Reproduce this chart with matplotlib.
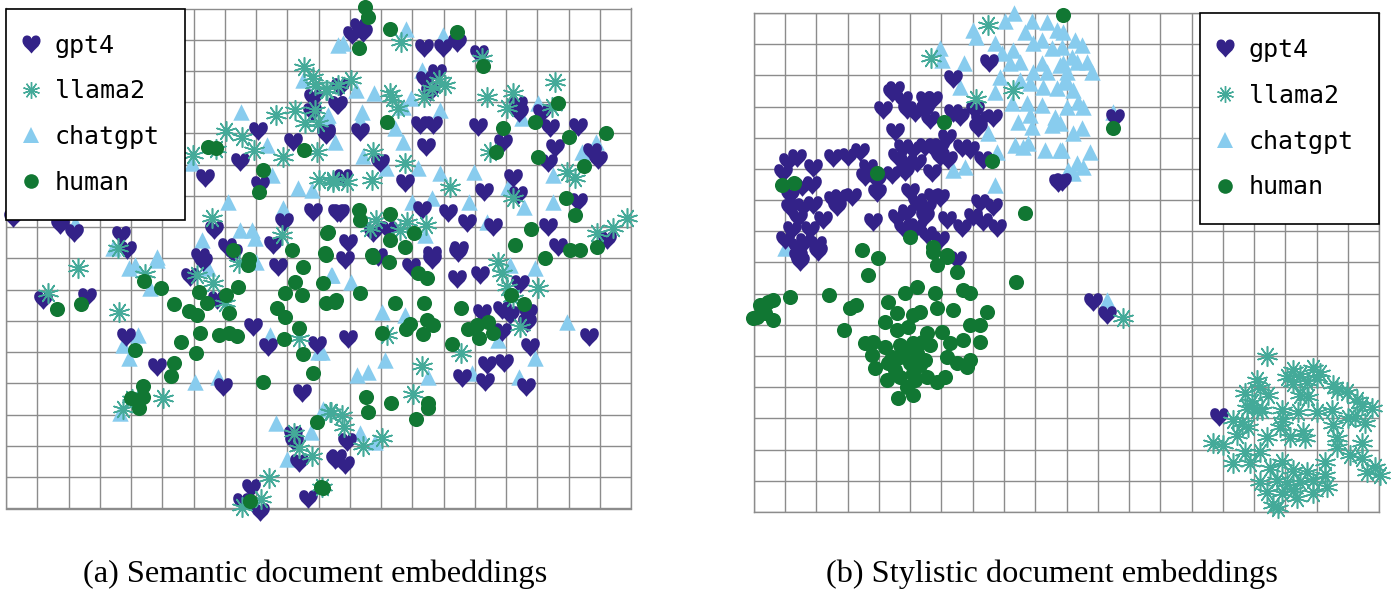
import numpy as np
import matplotlib.pyplot as plt
from matplotlib.path import Path
from matplotlib.lines import Line2D

# ---- panel (a): semantic embeddings (2-d projection coordinates) ----
gpt4_a = [(13,218),(60,225),(74,233),(121,235),(127,250),(313,98),(337,105),(312,112),(258,131),(293,142),
          (326,133),(240,162),(205,178),(260,185),(313,212),(337,213),(284,222),(214,230),(273,245),(227,247),
          (200,257),(359,27),(352,35),(363,33),(424,48),(443,48),(457,43),(479,54),(437,73),(425,80),(430,92),
          (518,105),(519,113),(542,113),(338,105),(420,125),(433,125),(478,127),(326,135),(360,132),(426,147),
          (380,163),(503,143),(550,128),(578,127),(555,148),(548,163),(592,152),(598,160),(343,178),(405,183),
          (513,178),(484,192),(518,195),(422,210),(448,213),(467,223),(493,227),(578,202),(607,240),(548,227),
          (558,247),(340,213),(373,233),(388,230),(348,243),(432,255),(459,250),(340,87),
          (43,300),(87,297),(203,262),(190,277),(217,300),(233,253),(278,267),(253,327),(317,345),(268,347),
          (126,337),(157,367),(223,387),(302,393),(293,435),(294,442),(299,463),(335,460),(251,488),(260,512),
          (242,502),(308,499),(345,260),(378,257),(432,260),(411,267),(458,253),(457,279),(480,275),(520,284),
          (482,313),(502,310),(510,315),(528,313),(527,323),(502,332),(348,339),(530,347),(487,365),(504,363),
          (462,378),(485,382),(526,387),(589,337),(347,442),(337,458),(345,465)]
llama2_a = [(118,248),(304,67),(313,77),(315,85),(327,90),(315,110),(305,123),(318,123),(276,115),(295,110),
            (226,131),(242,137),(254,150),(317,152),(283,157),(216,149),(193,155),(319,180),(333,180),(212,218),
            (282,235),(401,42),(482,58),(439,80),(445,85),(432,88),(424,97),(555,82),(487,97),(513,93),(507,108),
            (552,107),(326,90),(338,85),(351,80),(390,93),(392,98),(398,108),(373,152),(405,163),(490,152),
            (567,172),(575,178),(347,182),(333,182),(372,180),(450,187),(513,198),(627,218),(613,228),(597,233),
            (376,220),(370,228),(400,230),(407,222),(426,225),(78,268),(48,293),(119,312),(145,274),(197,275),
            (213,283),(225,303),(239,263),(299,338),(132,399),(123,409),(163,398),(331,412),(294,433),(299,448),
            (312,456),(269,478),(261,499),(242,507),(322,487),(498,262),(502,273),(507,287),(538,288),(513,298),
            (520,327),(387,335),(422,366),(461,353),(413,394),(330,412),(342,415),(344,427),(363,446),(382,438)]
chatgpt_a = [(113,248),(75,223),(157,257),(338,45),(303,80),(328,115),(241,112),(267,145),(192,163),(272,175),
             (298,188),(312,190),(228,202),(283,208),(240,230),(252,230),(255,238),(202,240),(343,43),(406,29),
             (443,35),(422,70),(538,103),(522,118),(356,90),(374,93),(411,98),(403,107),(440,110),(327,117),
             (362,112),(360,120),(335,142),(395,128),(403,142),(363,156),(386,168),(582,152),(596,142),(553,175),
             (418,168),(440,173),(474,172),(508,187),(469,202),(524,207),(412,202),(432,198),(487,222),(553,202),
             (425,235),(129,268),(135,265),(157,260),(150,288),(208,268),(256,262),(331,275),(270,335),(318,352),
             (138,335),(123,345),(129,358),(195,382),(218,377),(120,413),(323,409),(276,423),(311,432),(287,459),
             (510,265),(535,268),(332,275),(351,282),(382,312),(405,315),(498,340),(322,352),(385,360),(428,377),
             (535,358),(472,373),(519,377),(567,322),(357,375),(368,372),(360,433),(375,442)]
human_a = [(304,150),(208,147),(216,148),(263,170),(259,192),(292,250),(328,232),(325,253),(233,250),(249,259),
           (365,7),(368,17),(359,48),(390,29),(457,32),(483,66),(387,122),(503,128),(496,152),(538,157),
           (569,137),(606,133),(584,166),(566,198),(575,215),(531,229),(515,245),(570,250),(580,250),(597,247),
           (535,122),(558,103),(359,210),(360,220),(390,214),(390,240),(414,233),(405,247),(327,233),(372,255),
           (545,258),(57,309),(81,304),(144,281),(161,288),(199,292),(207,303),(226,295),(238,287),(229,313),
           (174,304),(189,311),(197,315),(248,265),(303,267),(326,255),(323,283),(295,282),(285,293),(302,295),
           (326,303),(335,302),(277,308),(285,317),(299,328),(284,339),(303,354),(313,373),(219,335),(229,333),
           (237,336),(200,333),(181,342),(196,353),(135,350),(174,363),(171,376),(263,382),(143,386),(143,397),
           (131,398),(139,408),(317,422),(250,501),(321,487),(373,257),(389,262),(418,273),(427,278),(360,293),
           (336,300),(511,295),(524,304),(395,303),(424,303),(461,308),(410,324),(406,329),(427,320),(433,325),
           (423,334),(382,333),(468,329),(477,325),(488,322),(493,333),(479,338),(452,344),(366,397),(368,412),
           (391,403),(428,403),(428,408),(416,419),(323,488)]

# ---- panel (b): stylistic embeddings ----
gpt4_b = [(989,63),(953,79),(1058,183),(895,90),(892,93),(903,100),(883,110),(907,110),(915,113),(925,100),
          (933,100),(925,110),(930,120),(953,113),(960,117),(975,110),(980,120),(993,118),(978,128),(895,132),
          (947,138),(940,147),(903,148),(913,150),(925,147),(933,148),(962,148),(970,150),(897,157),(907,163),
          (917,163),(940,157),(948,160),(983,160),(905,172),(932,173),(892,175),(868,168),(865,177),(877,180),
          (833,158),(848,157),(860,152),(813,168),(788,162),(797,158),(783,173),(802,187),(812,185),(790,208),
          (803,207),(813,205),(798,218),(823,220),(833,200),(840,198),(852,197),(837,207),(877,193),(873,222),
          (910,192),(917,202),(933,197),(940,198),(927,207),(907,213),(897,218),(925,217),(947,220),(962,228),
          (980,203),(993,207),(973,217),(983,222),(997,228),(903,228),(917,227),(927,235),(940,240),(792,230),
          (810,230),(797,247),(817,245),(805,242),(798,257),(818,252),(957,260),(1115,118),(1062,182),(1093,302),
          (1107,315),(1219,417),(790,195),(785,240),(800,262)]
llama2_b = [(988,25),(931,58),(1013,90),(976,99),(1123,318),(1267,356),(1293,370),(1287,377),(1300,375),
            (1313,368),(1320,373),(1317,378),(1293,383),(1307,382),(1257,380),(1260,387),(1245,393),(1268,395),
            (1300,395),(1308,397),(1333,385),(1337,390),(1347,392),(1357,400),(1362,405),(1372,408),(1252,402),
            (1257,410),(1247,408),(1262,410),(1282,410),(1298,412),(1317,412),(1332,410),(1348,418),(1355,417),
            (1365,423),(1233,420),(1242,423),(1248,427),(1283,420),(1280,427),(1290,437),(1303,432),(1305,438),
            (1333,425),(1237,435),(1267,437),(1213,443),(1223,445),(1337,438),(1337,447),(1350,455),(1362,443),
            (1362,458),(1375,467),(1380,475),(1367,472),(1245,452),(1260,452),(1233,463),(1250,463),(1270,468),
            (1282,462),(1293,470),(1307,472),(1325,462),(1260,482),(1277,480),(1287,483),(1300,482),(1313,480),
            (1325,475),(1327,487),(1267,492),(1282,493),(1297,498),(1313,493),(1273,505),(1278,508),(1293,490)]
chatgpt_b = [(1014,13),(1005,21),(1032,21),(1047,22),(1057,30),(1025,32),(976,37),(973,30),(940,48),(942,60),
             (964,63),(960,87),(995,43),(1002,53),(1013,50),(1033,43),(1042,40),(1052,48),(1062,47),(1010,63),
             (1020,62),(1042,63),(1060,65),(1033,72),(1047,72),(1067,72),(1000,77),(1020,80),(1030,83),(1043,87),
             (1057,88),(1065,80),(995,92),(1012,103),(1027,103),(1042,105),(1055,117),(1030,115),(1018,122),
             (1032,127),(1052,125),(1067,107),(988,133),(1015,145),(1023,147),(1028,143),(1045,150),(1060,150),
             (997,152),(953,170),(965,167),(995,185),(1068,170),(785,248),(1063,32),(1075,40),(1082,45),(1072,57),
             (1077,62),(1087,62),(1092,72),(1063,63),(1067,82),(1073,90),(1078,102),(1083,107),(1060,123),
             (1073,133),(1082,128),(1090,152),(1077,163),(1083,167),(1073,173),(1062,150),(1113,112),(1107,300)]
human_b = [(1063,15),(992,161),(1025,213),(944,122),(877,173),(782,185),(794,183),(1113,128),(910,237),(933,247),
           (947,255),(862,250),(878,258),(868,275),(933,252),(947,257),(937,265),(957,272),(1016,282),(760,305),
           (768,302),(773,300),(757,317),(765,313),(773,320),(753,318),(790,297),(829,295),(850,308),(856,305),
           (844,330),(888,302),(905,293),(917,287),(935,293),(937,308),(953,310),(963,290),(970,293),(987,312),
           (885,322),(897,313),(913,315),(920,312),(908,327),(897,330),(927,333),(942,332),(970,325),(980,325),
           (963,340),(980,342),(865,343),(873,342),(872,355),(885,347),(900,345),(913,343),(922,342),(950,343),
           (888,363),(900,357),(910,363),(925,360),(947,357),(957,363),(970,360),(875,368),(887,380),(900,377),
           (913,373),(927,377),(937,382),(945,377),(967,367),(898,398),(913,395),(907,387),(892,357),(917,353),
           (905,350),(920,365),(930,345),(895,370),(915,380)]

labels = ['gpt4', 'llama2', 'chatgpt', 'human']
colors = ['#332288', '#44AA99', '#88CCEE', '#117733']

# filled heart marker
heart = Path(
    [(0, -1), (-0.3, -0.55), (-1, -0.2), (-1, 0.4),
     (-1, 0.82), (-0.75, 1.0), (-0.5, 1.0),
     (-0.2, 1.0), (0, 0.8), (0, 0.58),
     (0, 0.8), (0.2, 1.0), (0.5, 1.0),
     (0.75, 1.0), (1, 0.82), (1, 0.4),
     (1, -0.2), (0.3, -0.55), (0, -1), (0, -1)],
    [Path.MOVETO] + [Path.CURVE4] * 18 + [Path.CLOSEPOLY])
star = (10, 2, 0)
markers = [heart, star, '^', 'o']
sizes = [180, 200, 140, 118]
zorders = [4, 5, 3, 6]

fig = plt.figure(figsize=(13.91, 6.10), dpi=100)


def panel(rect, xlim, ylim, series, legend_loc, anchor):
    ax = fig.add_axes(rect)
    for pts, lab, c, m, s, z in zip(series, labels, colors, markers, sizes, zorders):
        pts = np.array(pts)
        lw = 1.15 if m == star else 0
        ax.scatter(pts[:, 0], pts[:, 1], marker=m, s=s, color=c, linewidths=lw,
                   zorder=z, clip_on=False)
    ax.set_xlim(*xlim)
    ax.set_ylim(*ylim)
    ax.set_xticks(np.linspace(xlim[0], xlim[1], 21))
    ax.set_yticks(np.linspace(ylim[0], ylim[1], 17))
    ax.tick_params(length=0, labelbottom=False, labelleft=False)
    ax.grid(True, color='#8c8c8c', lw=1.0)
    ax.set_axisbelow(True)
    for sp in ax.spines.values():
        sp.set_color('#8c8c8c')
        sp.set_linewidth(1.0)
    handles = [Line2D([], [], ls='none', marker=m, color=c, markersize=ms,
                      markeredgewidth=(1.0 if m == star else 0))
               for m, c, ms in zip(markers, colors, [13, 12, 11, 10.5])]
    leg = ax.legend(handles, labels, loc=legend_loc, bbox_to_anchor=anchor,
                    borderaxespad=0, fancybox=False, edgecolor='black', framealpha=1,
                    prop={'family': 'DejaVu Sans Mono', 'size': 18},
                    handlelength=0.0, handletextpad=0.96, labelspacing=0.87,
                    borderpad=1.0)
    leg.get_frame().set_linewidth(1.2)
    leg.set_zorder(10)
    return ax


panel([6 / 1391, 101.5 / 610, 625 / 1391, 500 / 610], (6, 631), (508.5, 8.5),
      [gpt4_a, llama2_a, chatgpt_a, human_a], 'upper left', (0, 1))
panel([754 / 1391, 98 / 610, 625 / 1391, 499 / 610], (754, 1379), (512, 13),
      [gpt4_b, llama2_b, chatgpt_b, human_b], 'upper right', (1, 1))

fig.text(315 / 1391, 1 - 574 / 610, '(a) Semantic document embeddings',
         ha='center', va='center', family='Liberation Serif', size=23.3)
fig.text(1052 / 1391, 1 - 574 / 610, '(b) Stylistic document embeddings',
         ha='center', va='center', family='Liberation Serif', size=23.3)

fig.savefig('out.png', dpi=100)
